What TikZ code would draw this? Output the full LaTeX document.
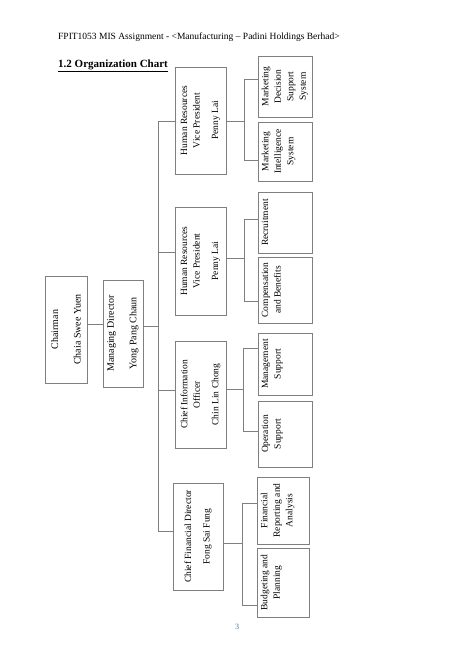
\documentclass[tikz,border=0pt]{standalone}
\usepackage{fontspec}
\setmainfont{Liberation Serif}
\usepackage{graphicx}
\usetikzlibrary{fit}
\definecolor{boxgray}{HTML}{7F7F7F}
\definecolor{pgblue}{HTML}{4F6F9F}
\begin{document}
\begin{tikzpicture}[x=1pt,y=-1pt,
  box/.style={draw=boxgray, line width=0.8pt, inner sep=0pt},
  txt/.style={font=\fontsize{9.5}{12.5}\selectfont, align=center, inner sep=0pt, rotate=90},
  bigtxt/.style={txt, font=\fontsize{10}{12.5}\selectfont},
  link/.style={draw=boxgray, line width=0.8pt}]
\useasboundingbox (0,0) rectangle (474,670);

% header
\node[anchor=base west, inner sep=0pt, font=\fontsize{9.5}{12}\selectfont] (hdr) at (58,39) {FPIT1053 MIS Assignment - <Manufacturing – Padini Holdings Berhad>};
\node[anchor=base west, inner sep=0pt, font=\bfseries\fontsize{11}{13}\selectfont] (ttl) at (58,67) {\underline{1.2 Organization Chart}};
\node[inner sep=0pt, font=\fontsize{8}{10}\selectfont, text=pgblue] (pg) at (237,627) {3};

% boxes
\node[box, fit={(45,276) (87,383)}] (chair) {};
\node[box, fit={(103,280) (143,387)}] (md) {};
\node[box, fit={(175,67) (226,174)}] (hr1) {};
\node[box, fit={(175,207) (226,315)}] (hr2) {};
\node[box, fit={(175,341) (226,448)}] (cio) {};
\node[box, fit={(173,483) (223,590)}] (cfd) {};
\node[box, fit={(258,56) (312,117)}] (mdss) {};
\node[box, fit={(258,122) (312,181)}] (mis) {};
\node[box, fit={(258,192) (312,253)}] (rec) {};
\node[box, fit={(258,257) (312,323)}] (comp) {};
\node[box, fit={(258,333) (312,395)}] (mgmt) {};
\node[box, fit={(258,401) (312,467)}] (oper) {};
\node[box, fit={(257,477) (309,544)}] (fra) {};
\node[box, fit={(257,548) (309,617)}] (bp) {};

% texts
\node[bigtxt] (t-chair) at (chair) {Chairman\\[10pt]Chaia Swee Yuen};
\node[bigtxt] (t-md) at (md) {Managing Director\\[10pt]Yong Pang Chaun};
\node[txt] (t-hr1) at (hr1) {Human Resources\\Vice President\\[6pt]Penny Lai};
\node[txt] (t-hr2) at (hr2) {Human Resources\\Vice President\\[6pt]Penny Lai};
\node[txt] (t-cio) at (cio) {Chief Information\\Officer\\[6pt]Chin Lin Chong};
\node[txt] (t-cfd) at (cfd) {Chief Financial Director\\[6pt]Fong Sai Fung};
\node[txt, anchor=north] (t-mdss) at ([xshift=4pt]mdss.west) {Marketing\\Decision\\Support\\System};
\node[txt, anchor=north] (t-mis) at ([xshift=4pt]mis.west) {Marketing\\Intelligence\\System};
\node[txt, anchor=north] (t-rec) at ([xshift=4pt]rec.west) {Recruitment};
\node[txt, anchor=north] (t-comp) at ([xshift=4pt]comp.west) {Compensation\\and Benefits};
\node[txt, anchor=north] (t-mgmt) at ([xshift=4pt]mgmt.west) {Management\\Support};
\node[txt, anchor=north] (t-oper) at ([xshift=4pt]oper.west) {Operation\\Support};
\node[txt, anchor=north] (t-fra) at ([xshift=4pt]fra.west) {Financial\\Reporting and\\Analysis};
\node[txt, anchor=north] (t-bp) at ([xshift=4pt]bp.west) {Budgeting and\\Planning};

% junction coordinates
\coordinate (tm) at (158,326);
\coordinate (tr1) at (158,121);
\coordinate (tr2) at (158,252);
\coordinate (tr3) at (158,390);
\coordinate (tr4) at (158,531);
\coordinate (s1) at (244,121); \coordinate (s1a) at (244,79);  \coordinate (s1b) at (244,160);
\coordinate (s2) at (244,258); \coordinate (s2a) at (244,219); \coordinate (s2b) at (244,301);
\coordinate (s3) at (243,389); \coordinate (s3a) at (243,348); \coordinate (s3b) at (243,431);
\coordinate (s4) at (242,543); \coordinate (s4a) at (242,503); \coordinate (s4b) at (242,605);

% connectors
\draw[link] ([yshift=5.5pt]chair.east) -- ([yshift=5.5pt]chair.east -| md.west);
\draw[link] (md.east |- tm) -- (tm);
\draw[link] (tr1) -- (tr4);
\draw[link] (tr1) -- (tr1 -| hr1.west);
\draw[link] (tr2) -- (tr2 -| hr2.west);
\draw[link] (tr3) -- (tr3 -| cio.west);
\draw[link] (tr4) -- (tr4 -| cfd.west);

\draw[link] (hr1.east |- s1) -- (s1);
\draw[link] (s1a -| mdss.west) -- (s1a) -- (s1b) -- (s1b -| mis.west);
\draw[link] (hr2.east |- s2) -- (s2);
\draw[link] (s2a -| rec.west) -- (s2a) -- (s2b) -- (s2b -| comp.west);
\draw[link] (cio.east |- s3) -- (s3);
\draw[link] (s3a -| mgmt.west) -- (s3a) -- (s3b) -- (s3b -| oper.west);
\draw[link] (cfd.east |- s4) -- (s4);
\draw[link] (s4a -| fra.west) -- (s4a) -- (s4b) -- (s4b -| bp.west);
\end{tikzpicture}
\end{document}
